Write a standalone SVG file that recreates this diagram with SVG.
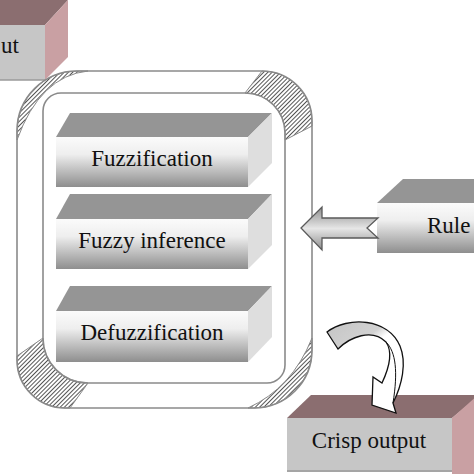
<svg xmlns="http://www.w3.org/2000/svg" width="474" height="474" viewBox="0 0 474 474">
<defs>
<style>
.lbl{font-family:"Liberation Serif","Times New Roman",serif;font-size:23px;fill:#111}
.frame{fill:none;stroke:#8a8a8a;stroke-width:1.6}
.hatch{fill:url(#hp);stroke:#8a8a8a;stroke-width:1}
.top{fill:#959595}
.side{fill:#dedede}
.front{fill:url(#fg)}
.ptop{fill:#8b6e70}
.pside{fill:#c9a0a3}
.pfront{fill:#c6c6c6}
</style>
<pattern id="hp" patternUnits="userSpaceOnUse" width="3" height="3" patternTransform="rotate(45)">
<rect width="3" height="3" fill="#fff"/>
<line x1="0.5" y1="0" x2="0.5" y2="3" stroke="#555" stroke-width="1"/>
</pattern>
<linearGradient id="fg" x1="0" y1="0" x2="0" y2="1">
<stop offset="0" stop-color="#fbfbfb"/>
<stop offset="0.35" stop-color="#eeeeee"/>
<stop offset="1" stop-color="#8e8e8e"/>
</linearGradient>
<linearGradient id="ag" x1="0" y1="0" x2="0" y2="1">
<stop offset="0" stop-color="#8c8c8c"/>
<stop offset="0.5" stop-color="#e6e6e6"/>
<stop offset="1" stop-color="#8c8c8c"/>
</linearGradient>
<linearGradient id="cg" x1="0" y1="0" x2="0.6" y2="1">
<stop offset="0" stop-color="#c4c4c4"/>
<stop offset="0.35" stop-color="#d2d2d2"/>
<stop offset="0.45" stop-color="#ffffff"/>
<stop offset="1" stop-color="#ffffff"/>
</linearGradient>
</defs>
<rect width="474" height="474" fill="#fff"/>

<g id="input">
<polygon class="ptop" points="0,0 68,0 45,25 0,25"/>
<polygon class="pside" points="45,25 68,0 68,57 45,80"/>
<rect class="pfront" x="-2" y="25" width="47" height="55"/>
<line x1="0" y1="80" x2="45" y2="80" stroke="#9a9a9a" stroke-width="1.5"/>
<text class="lbl" x="1" y="53">ut</text>
</g>

<g id="fis-frame">
<path class="hatch" d="M245,93 L262,71 A50,50 0 0 1 312,121 L312,126 L285,140 L285,133 A40,40 0 0 0 245,93 Z"/>
<path class="hatch" d="M43,338 L17,356 V360 A48,48 0 0 0 65,408 H70 L88,383 A45,45 0 0 1 43,338 Z"/>
<path class="hatch" d="M17,140 V131 A60,60 0 0 1 77,71 H88 Q40,76 17,140 Z"/>
<path class="hatch" d="M312,338 V350 A58,58 0 0 1 254,408 H248 Q292,388 312,338 Z"/>
<path class="frame" d="M77,71 H262 A50,50 0 0 1 312,121 V350 A58,58 0 0 1 254,408 H65 A48,48 0 0 1 17,360 V131 A60,60 0 0 1 77,71 Z"/>
<path class="frame" d="M61,93 H245 A40,40 0 0 1 285,133 V365 A18,18 0 0 1 267,383 H88 A45,45 0 0 1 43,338 V111 A18,18 0 0 1 61,93 Z"/>
</g>

<g id="fuzzification">
<polygon class="top" points="56,137 70,113 272,113 248,137"/>
<polygon class="side" points="248,137 272,113 272,163 248,187"/>
<rect class="front" x="56" y="137" width="192" height="50"/>
<text class="lbl" x="152" y="166" text-anchor="middle">Fuzzification</text>
</g>

<g id="fuzzy-inference">
<polygon class="top" points="56,219 70,194 272,194 248,219"/>
<polygon class="side" points="248,219 272,194 272,245 248,269"/>
<rect class="front" x="56" y="219" width="192" height="50"/>
<text class="lbl" x="152" y="248" text-anchor="middle">Fuzzy inference</text>
</g>

<g id="defuzzification">
<polygon class="top" points="56,311 70,286 272,286 248,311"/>
<polygon class="side" points="248,311 272,286 272,337 248,362"/>
<rect class="front" x="56" y="311" width="192" height="51"/>
<text class="lbl" x="152" y="340" text-anchor="middle">Defuzzification</text>
</g>

<g id="rule-base">
<polygon class="top" points="377,203 403,179 480,179 480,203"/>
<rect class="front" x="377" y="203" width="100" height="50"/>
<text class="lbl" x="427" y="233">Rule</text>
</g>

<g id="crisp-output">
<polygon class="ptop" points="287,418 311,395 480,395 452,418"/>
<polygon class="pside" points="452,418 478,395 478,474 452,474"/>
<rect class="pfront" x="287" y="418" width="165" height="54"/>
<line x1="287" y1="471" x2="452" y2="471" stroke="#9a9a9a" stroke-width="1.5"/>
<text class="lbl" x="369" y="448" text-anchor="middle">Crisp output</text>
</g>

<g id="connectors">
<path d="M301,228 L322,207 L322,218 L378,218 L367,228 L378,238 L322,238 L322,250 Z" fill="url(#ag)" stroke="#5a5a5a" stroke-width="1.3" stroke-linejoin="miter"/>
<path d="M327,332 C348,316 388,318 400,346 C407,363 402,385 393,403 L396,413 L372,405 L373,377 L382,383 C390,366 393,352 386,342 C372,328 350,337 338,349 Z" fill="url(#cg)" stroke="#111" stroke-width="1.3" stroke-linejoin="miter"/>
<path d="M386,342 C396,352 398,372 393,403" fill="none" stroke="#111" stroke-width="1"/>
</g>
</svg>
